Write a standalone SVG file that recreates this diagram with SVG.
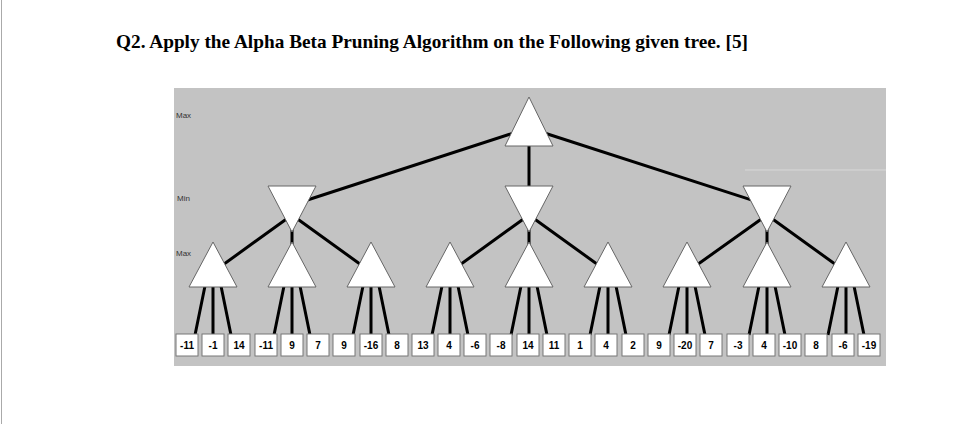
<svg xmlns="http://www.w3.org/2000/svg" width="975" height="424" viewBox="0 0 975 424">
<style>
.e{stroke:#000;stroke-width:3;fill:none}
.n{fill:#fff;stroke:#666;stroke-width:1}
.lv{font:8px "Liberation Sans",Arial,sans-serif;fill:#333}
.lf{font:bold 10px "Liberation Sans",Arial,sans-serif;text-anchor:middle;fill:#000}
.b{fill:#fff;stroke:#777;stroke-width:1}
</style>
<rect width="975" height="424" fill="#fff"/>
<line x1="1.5" y1="0" x2="1.5" y2="424" stroke="#aaa"/>
<text x="116" y="48" font-family="Liberation Serif,serif" font-weight="bold" font-size="19" textLength="632" lengthAdjust="spacingAndGlyphs">Q2. Apply the Alpha Beta Pruning Algorithm on the Following given tree. [5]</text>
<rect x="174" y="88" width="712" height="278" fill="#c3c3c3"/>
<line x1="745" y1="170" x2="886" y2="170" stroke="#d8d8d8"/>
<text class="lv" x="176" y="118">Max</text>
<text class="lv" x="177" y="201">Min</text>
<text class="lv" x="176" y="256">Max</text>
<g id="connectors">
<line class="e" x1="529" y1="128" x2="292" y2="205"/>
<line class="e" x1="529" y1="128" x2="529" y2="205"/>
<line class="e" x1="529" y1="128" x2="767" y2="205"/>
<path class="e" d="M292 215L213 272M292 215L292 272M292 215L371 272M529 215L450 272M529 215L529 272M529 215L608 272M767 215L687 272M767 215L767 272M767 215L846 272"/>
<path class="e" d="M205 286L195 335M213 286L213 335M221 286L231 335M284 286L274 335M292 286L292 335M300 286L310 335M363 286L353 335M371 286L371 335M379 286L389 335M442 286L432 335M450 286L450 335M458 286L468 335M521 286L511 335M529 286L529 335M537 286L547 335M600 286L590 335M608 286L608 335M616 286L626 335M679 286L669 335M687 286L687 335M695 286L705 335M759 286L749 335M767 286L767 335M775 286L785 335M838 286L828 335M846 286L846 335M854 286L864 335"/>
</g>
<g id="root"><polygon class="n" points="529,97 553,146 505,146"/></g>
<g id="min1"><polygon class="n" points="268,186 316,186 292,232"/></g>
<g id="min2"><polygon class="n" points="505,186 553,186 529,232"/></g>
<g id="min3"><polygon class="n" points="743,186 791,186 767,232"/></g>
<g id="max1"><polygon class="n" points="213,242 237,287 189,287"/></g>
<g id="max2"><polygon class="n" points="292,242 316,287 268,287"/></g>
<g id="max3"><polygon class="n" points="371,242 395,287 347,287"/></g>
<g id="max4"><polygon class="n" points="450,242 474,287 426,287"/></g>
<g id="max5"><polygon class="n" points="529,242 553,287 505,287"/></g>
<g id="max6"><polygon class="n" points="608,242 632,287 584,287"/></g>
<g id="max7"><polygon class="n" points="687,242 711,287 663,287"/></g>
<g id="max8"><polygon class="n" points="767,242 791,287 743,287"/></g>
<g id="max9"><polygon class="n" points="846,242 870,287 822,287"/></g>
<g id="leaves">
<g id="l1"><rect class="b" x="176" y="334" width="22" height="22"/><text class="lf" x="187" y="349">-11</text></g>
<g id="l2"><rect class="b" x="202" y="334" width="22" height="22"/><text class="lf" x="213" y="349">-1</text></g>
<g id="l3"><rect class="b" x="228" y="334" width="22" height="22"/><text class="lf" x="239" y="349">14</text></g>
<g id="l4"><rect class="b" x="255" y="334" width="22" height="22"/><text class="lf" x="266" y="349">-11</text></g>
<g id="l5"><rect class="b" x="281" y="334" width="22" height="22"/><text class="lf" x="292" y="349">9</text></g>
<g id="l6"><rect class="b" x="307" y="334" width="22" height="22"/><text class="lf" x="318" y="349">7</text></g>
<g id="l7"><rect class="b" x="333" y="334" width="22" height="22"/><text class="lf" x="344" y="349">9</text></g>
<g id="l8"><rect class="b" x="360" y="334" width="22" height="22"/><text class="lf" x="371" y="349">-16</text></g>
<g id="l9"><rect class="b" x="386" y="334" width="22" height="22"/><text class="lf" x="397" y="349">8</text></g>
<g id="l10"><rect class="b" x="412" y="334" width="22" height="22"/><text class="lf" x="423" y="349">13</text></g>
<g id="l11"><rect class="b" x="438" y="334" width="22" height="22"/><text class="lf" x="449" y="349">4</text></g>
<g id="l12"><rect class="b" x="464" y="334" width="22" height="22"/><text class="lf" x="475" y="349">-6</text></g>
<g id="l13"><rect class="b" x="490" y="334" width="22" height="22"/><text class="lf" x="501" y="349">-8</text></g>
<g id="l14"><rect class="b" x="517" y="334" width="22" height="22"/><text class="lf" x="528" y="349">14</text></g>
<g id="l15"><rect class="b" x="543" y="334" width="22" height="22"/><text class="lf" x="554" y="349">11</text></g>
<g id="l16"><rect class="b" x="569" y="334" width="22" height="22"/><text class="lf" x="580" y="349">1</text></g>
<g id="l17"><rect class="b" x="595" y="334" width="22" height="22"/><text class="lf" x="606" y="349">4</text></g>
<g id="l18"><rect class="b" x="622" y="334" width="22" height="22"/><text class="lf" x="633" y="349">2</text></g>
<g id="l19"><rect class="b" x="648" y="334" width="22" height="22"/><text class="lf" x="659" y="349">9</text></g>
<g id="l20"><rect class="b" x="674" y="334" width="22" height="22"/><text class="lf" x="685" y="349">-20</text></g>
<g id="l21"><rect class="b" x="700" y="334" width="22" height="22"/><text class="lf" x="711" y="349">7</text></g>
<g id="l22"><rect class="b" x="727" y="334" width="22" height="22"/><text class="lf" x="738" y="349">-3</text></g>
<g id="l23"><rect class="b" x="753" y="334" width="22" height="22"/><text class="lf" x="764" y="349">4</text></g>
<g id="l24"><rect class="b" x="779" y="334" width="22" height="22"/><text class="lf" x="790" y="349">-10</text></g>
<g id="l25"><rect class="b" x="805" y="334" width="22" height="22"/><text class="lf" x="816" y="349">8</text></g>
<g id="l26"><rect class="b" x="832" y="334" width="22" height="22"/><text class="lf" x="843" y="349">-6</text></g>
<g id="l27"><rect class="b" x="858" y="334" width="22" height="22"/><text class="lf" x="869" y="349">-19</text></g>
</g>
</svg>
